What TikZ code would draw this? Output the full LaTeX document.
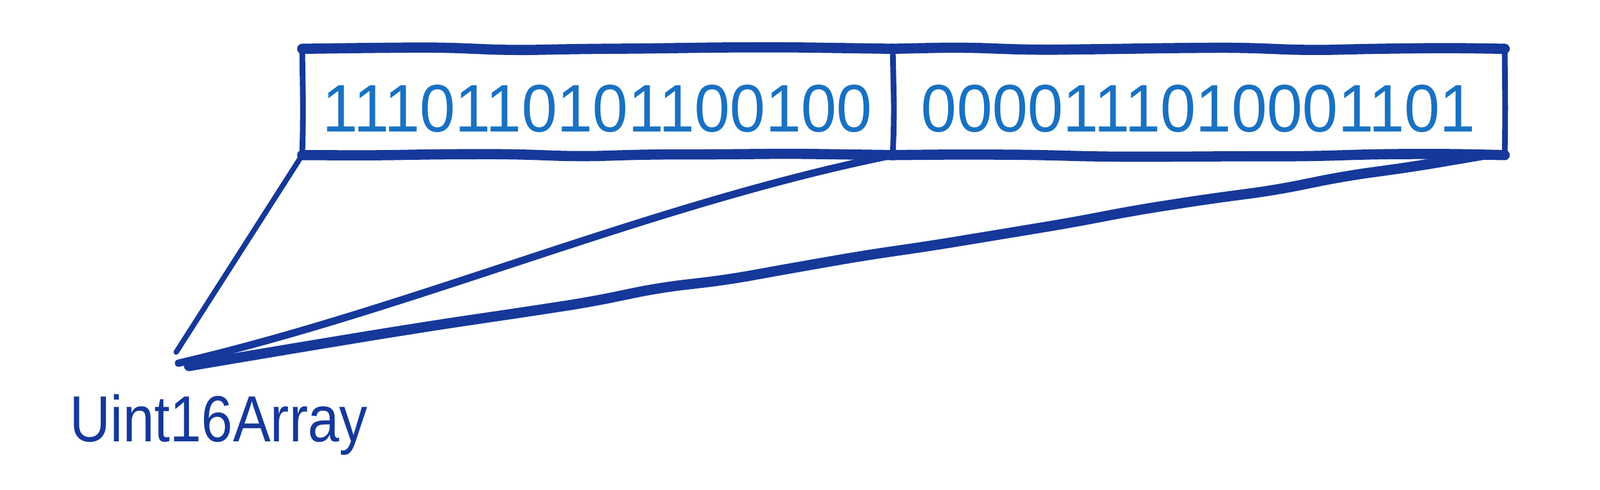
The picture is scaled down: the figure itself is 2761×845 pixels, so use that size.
\documentclass[tikz,border=0pt]{standalone}
\usepackage{fontspec}
\setmainfont{Liberation Sans}
\newfontfamily\bitfont[FakeStretch=0.95]{Liberation Sans}
\newfontfamily\labelfont[FakeStretch=0.865]{Liberation Sans}
\usetikzlibrary{decorations.pathmorphing}
\definecolor{ink}{HTML}{15389A}
\definecolor{bitblue}{HTML}{1971C2}

\begin{document}
\begin{tikzpicture}
  [x=0.01cm, y=-0.01cm, line cap=round, line join=round,
   every node/.style={inner sep=0pt, text=ink},
   word/.style={minimum width=10.17cm, minimum height=1.82cm, text height=1.02cm,
                text depth=0pt, text=bitblue, font=\bitfont\fontsize{33}{33}\selectfont},
   sketch/.style={draw=ink, decorate, rounded corners=0.4cm,
                  decoration={random steps, segment length=1.2cm, amplitude=0.8pt}},
   long side/.style={sketch, line width=5pt},
   short side/.style={sketch, line width=2.8pt}]
  \useasboundingbox (0,0) rectangle (2761,845);
  \node[word] (hi) at (1031,176) {1110110101100100};
  \node[word, minimum width=10.55cm] (lo) at (2068,176) {0000111010001101};
  \draw[long side] (hi.north west) -- (hi.north east);
  \draw[long side] (hi.south west) -- (hi.south east);
  \draw[long side] (lo.north west) -- (lo.north east);
  \draw[long side] (lo.south west) -- (lo.south east);
  \draw[short side] (hi.north west) -- (hi.south west);
  \draw[short side] (hi.north east) -- (hi.south east);
  \draw[short side] (lo.north east) -- (lo.south east);
  \node[anchor=base west, font=\labelfont\fontsize{32}{32}\selectfont] (name) at (120,762) {Uint16Array};
  \coordinate (end a) at (304,608);
  \coordinate (end b) at (308,627);
  \coordinate (end c) at (326,632);
  \draw[ink, line width=2.6pt] (hi.south west) -- (end a);
  \draw[ink, line width=3.6pt] (hi.south east) .. controls (1123,352) and (716,532) .. (end b);
  \draw[sketch, line width=5pt] ([xshift=-0.4cm]lo.south east) -- (end c);
\end{tikzpicture}
\end{document}
